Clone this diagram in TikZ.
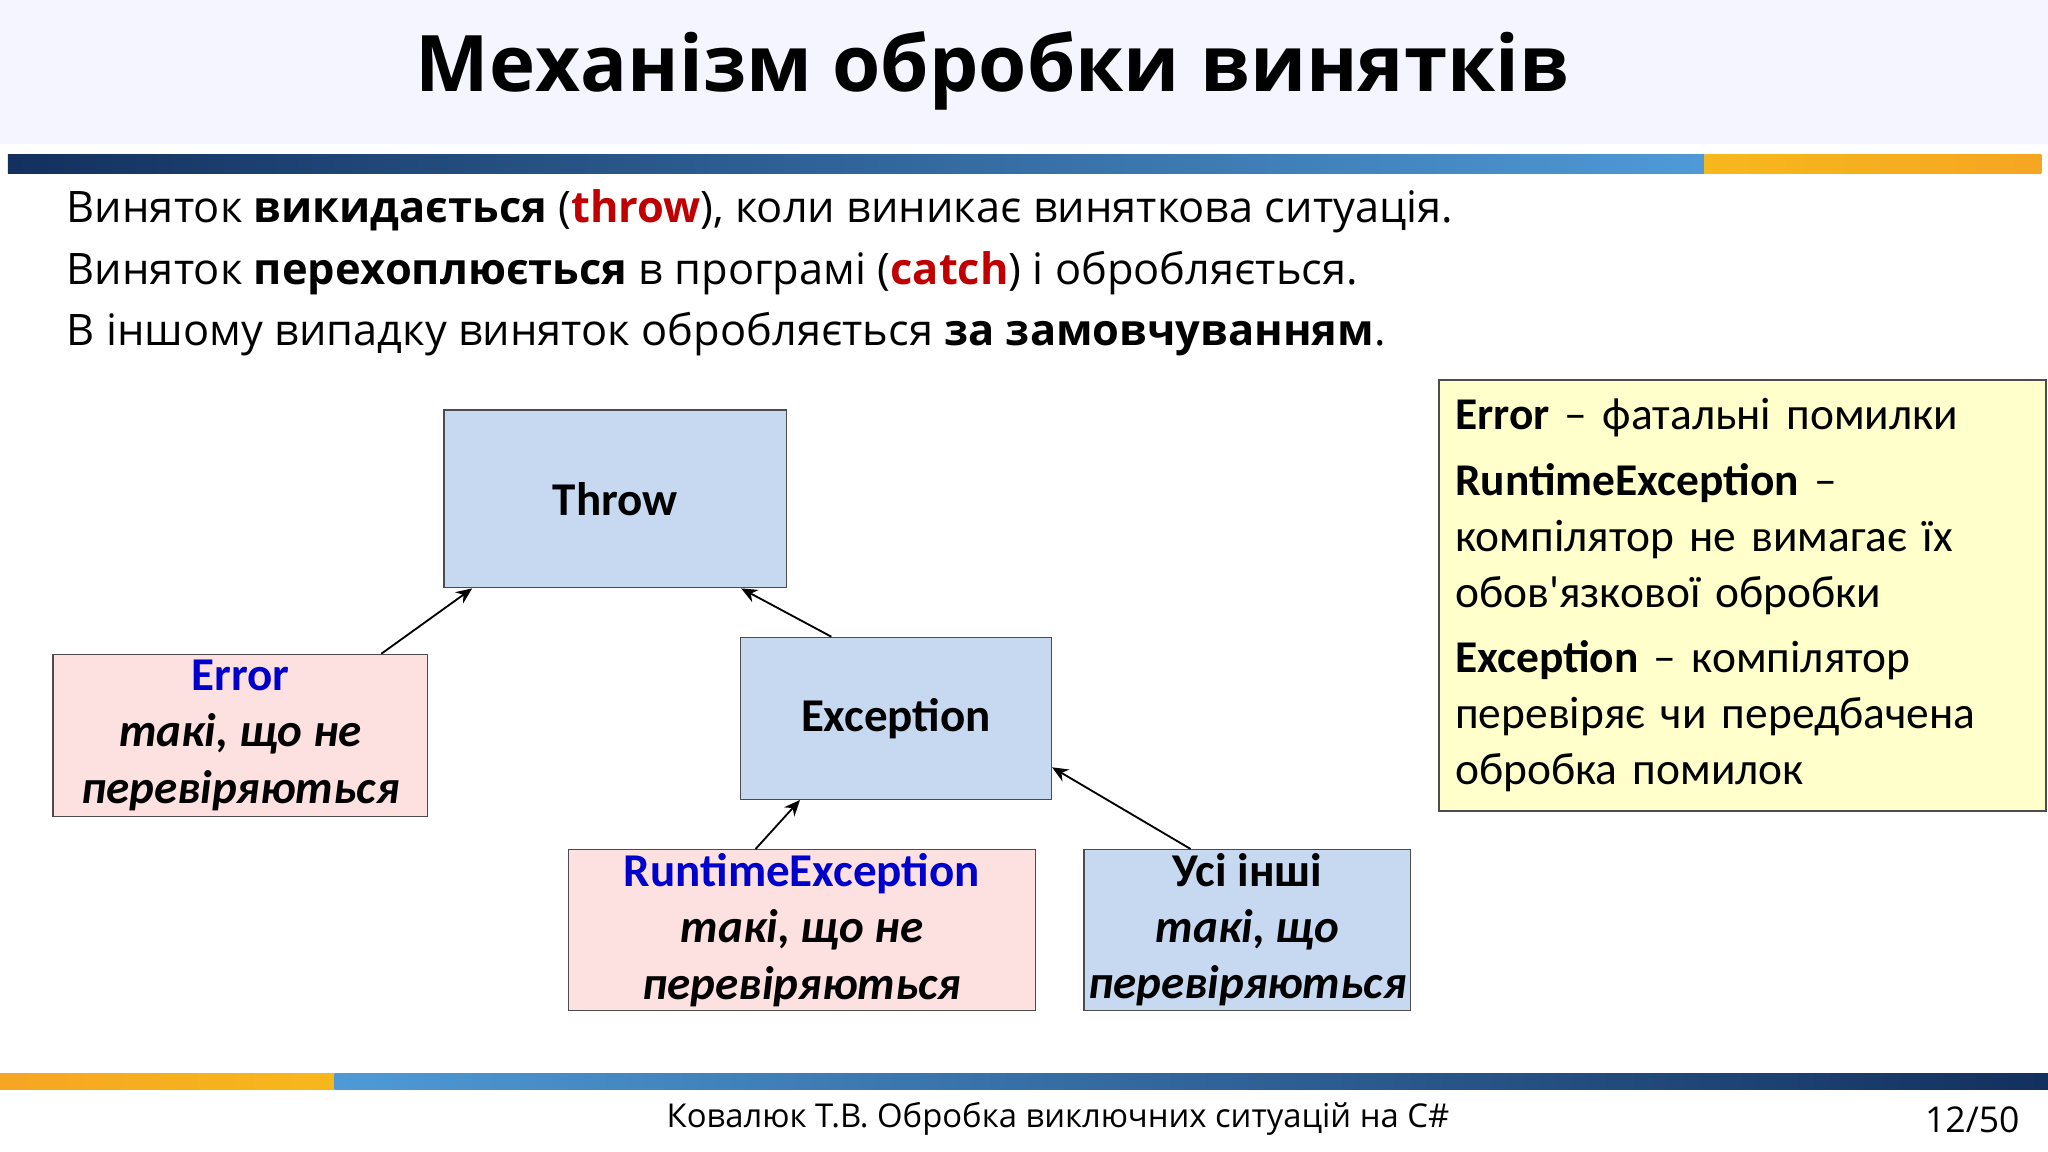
\documentclass[tikz,border=0pt]{standalone}
\usepackage{fontspec}
\setmainfont{Open Sans}
\newfontfamily\carl{Carlito}
\usetikzlibrary{calc,arrows.meta}
\definecolor{navy}{HTML}{13305E}
\definecolor{lblue}{HTML}{4F9AD6}
\definecolor{orng}{HTML}{F5A623}
\definecolor{boxblue}{HTML}{C6D9F1}
\definecolor{boxpink}{HTML}{FDE1E1}
\definecolor{noteyel}{HTML}{FFFFCC}
\definecolor{redw}{HTML}{C00000}
\definecolor{bluew}{HTML}{0000CC}
\begin{document}
\begin{tikzpicture}[x=0.02cm,y=-0.02cm,
  bx/.style={draw=black!70,line width=0.6pt,inner sep=0pt,align=center,font=\carl\fontsize{20.5}{24.5}\selectfont\bfseries},
  arr/.style={-{Stealth[length=7pt,width=6pt]},line width=0.8pt}]
\useasboundingbox (0,0) rectangle (1568,882);
\fill[white] (0,0) rectangle (1568,882);
\fill[blue!4] (0,0) rectangle (1568,110);
% top bar
\shade[left color=navy,right color=lblue] (6,118) rectangle (1305,133);
\shade[left color=orng!80!yellow,right color=orng] (1305,118) rectangle (1563,133);
% bottom bar
\shade[left color=orng,right color=orng!80!yellow] (0,822) rectangle (256,834);
\shade[left color=lblue,right color=navy] (256,822) rectangle (1568,834);
\node[font=\fontsize{34}{40}\selectfont\bfseries] (title) at (760,54) {Механізм обробки винятків};
\node[anchor=west,font=\fontsize{18.9}{22}\selectfont] (l1) at (45,162) {Виняток \textbf{викидається} (\textcolor{redw}{\textbf{throw}}), коли виникає виняткова ситуація.};
\node[anchor=west,font=\fontsize{18.9}{22}\selectfont] (l2) at (45,209) {Виняток \textbf{перехоплюється} в програмі (\textcolor{redw}{\textbf{catch}}) і обробляється.};
\node[anchor=west,font=\fontsize{18.9}{22}\selectfont] (l3) at (45,256) {В іншому випадку виняток обробляється \textbf{за замовчуванням}.};
% boxes
\node[bx,fill=boxblue,minimum width=5.24cm,minimum height=2.72cm] (throw) at (471,382) {Throw};
\node[bx,fill=boxpink,minimum width=5.74cm,minimum height=2.48cm] (error) at (184,563) {\textcolor{bluew}{Error}\\\itshape такі, що не\\\itshape перевіряються};
\node[bx,fill=boxblue,minimum width=4.76cm,minimum height=2.48cm] (exc) at (686,550) {Exception};
\node[bx,fill=boxpink,minimum width=7.16cm,minimum height=2.46cm] (rt) at (614,712) {\textcolor{bluew}{RuntimeException}\\\itshape такі, що не\\\itshape перевіряються};
\node[bx,fill=boxblue,minimum width=5.0cm,minimum height=2.46cm] (oth) at (955,712) {Усі інші\\\itshape такі, що\\\itshape перевіряються};
% arrows
\coordinate (t1) at ($(throw.south west)+(22,0)$);
\coordinate (t2) at ($(throw.south west)+(228,0)$);
\coordinate (e1) at ($(error.north west)+(252,0)$);
\coordinate (x1) at ($(exc.north west)+(70,0)$);
\coordinate (x2) at ($(exc.south west)+(46,0)$);
\coordinate (x3) at ($(exc.north east)+(0,100)$);
\coordinate (r1) at ($(rt.north west)+(144,0)$);
\coordinate (o1) at ($(oth.north west)+(82,0)$);
\draw[arr] (e1) -- (t1);
\draw[arr] (x1) -- (t2);
\draw[arr] (r1) -- (x2);
\draw[arr] (o1) -- (x3);
% note
\node[draw=black!70,line width=0.8pt,fill=noteyel,anchor=north west,minimum width=9.3cm,minimum height=6.6cm,text width=8.8cm,align=left,inner xsep=0.25cm,inner ysep=0pt,font=\carl\fontsize{19.8}{24.4}\selectfont] (note) at (1101,290) {\textbf{Error} – фатальні помилки\\[4pt]
\textbf{RuntimeException} –\\ компілятор не вимагає їх\\ обов'язкової обробки\\[4pt]
\textbf{Exception} – компілятор\\ перевіряє чи передбачена\\ обробка помилок};
% footer
\node[font=\fontsize{14.3}{16}\selectfont] (foot) at (810,857) {Ковалюк Т.В. Обробка виключних ситуацій на C\#};
\node[font=\fontsize{15.5}{16}\selectfont] (pg) at (1510,857) {12/50};
\end{tikzpicture}
\end{document}
